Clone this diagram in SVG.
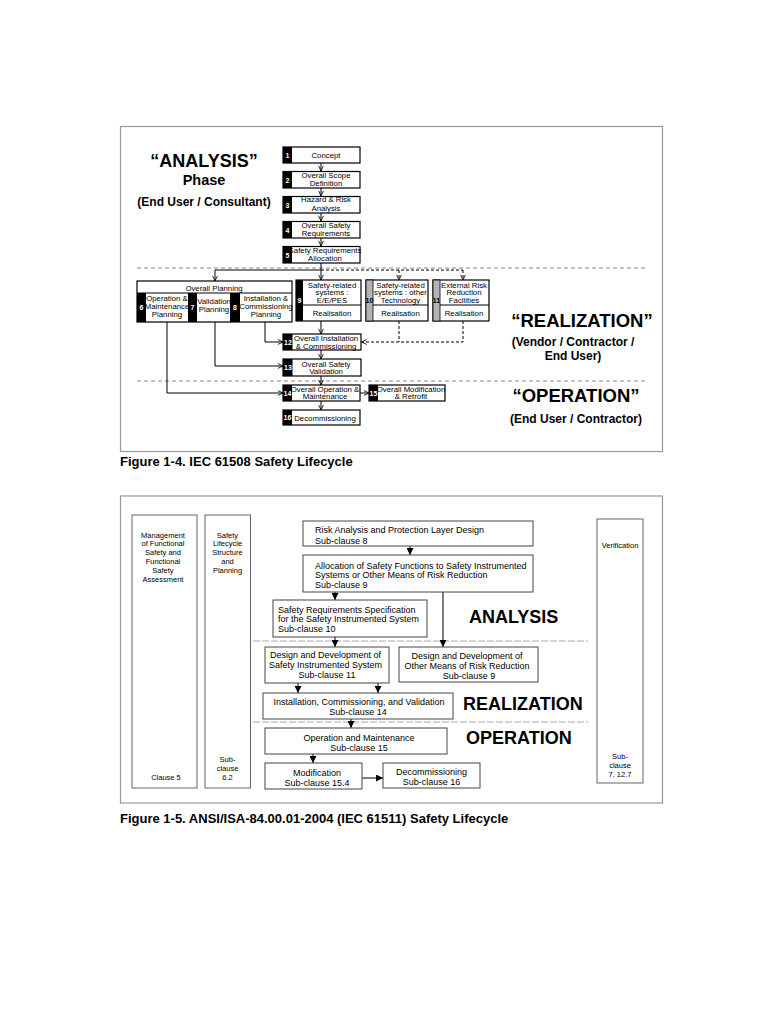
<svg xmlns="http://www.w3.org/2000/svg" width="768" height="1024" viewBox="0 0 768 1024">
<style>
.frame{fill:none;stroke:#999;stroke-width:1.2}
.box{fill:#fff;stroke:#000;stroke-width:1.2}
.blk{fill:#000}
.gry{fill:#b4b4b4;stroke:#000;stroke-width:0.8}
.t{font-family:"Liberation Sans",Arial,sans-serif;font-size:7.8px;fill:#000;text-anchor:middle}
.num{font-family:"Liberation Sans",Arial,sans-serif;font-size:7px;font-weight:bold;fill:#fff;text-anchor:middle}
.numb{font-family:"Liberation Sans",Arial,sans-serif;font-size:7px;font-weight:bold;fill:#000;text-anchor:middle}
.big{font-family:"Liberation Sans",Arial,sans-serif;font-weight:bold;fill:#000;text-anchor:middle}
.bigl{font-family:"Liberation Sans",Arial,sans-serif;font-weight:bold;font-size:18px;fill:#000;text-anchor:start}
.cap{font-family:"Liberation Sans",Arial,sans-serif;font-weight:bold;font-size:13px;fill:#000}
.sep{stroke:#888;stroke-width:1;stroke-dasharray:4,3;fill:none}
.sep2{stroke:#aaa;stroke-width:1;stroke-dasharray:7,2;fill:none}
.ln{stroke:#000;stroke-width:1;fill:none}
.dl{stroke:#000;stroke-width:1;fill:none;stroke-dasharray:3,2}
.b2{fill:#fff;stroke:#444;stroke-width:1}
.col{fill:#fff;stroke:#666;stroke-width:1}
.t2{font-family:"Liberation Sans",Arial,sans-serif;font-size:9px;fill:#000}
.t2c{font-family:"Liberation Sans",Arial,sans-serif;font-size:9px;fill:#000;text-anchor:middle}
.t3{font-family:"Liberation Sans",Arial,sans-serif;font-size:7.5px;fill:#000;text-anchor:middle}
</style>
<defs>
<marker id="oa" viewBox="0 0 10 10" refX="9.5" refY="5" markerWidth="6" markerHeight="6" markerUnits="userSpaceOnUse" orient="auto">
<path d="M1,1 L9.5,5 L1,9" fill="none" stroke="#000" stroke-width="1.4"/>
</marker>
<marker id="sa" viewBox="0 0 10 10" refX="10" refY="5" markerWidth="7" markerHeight="7" markerUnits="userSpaceOnUse" orient="auto">
<path d="M0,0 L10,5 L0,10 z" fill="#000"/>
</marker>
</defs>
<rect width="768" height="1024" fill="#fff"/>

<!-- ===== Figure 1-4 ===== -->
<rect class="frame" x="120.5" y="126.5" width="542" height="325"/>
<g id="labels-top">
<text class="big" x="204" y="166.5" font-size="18">“ANALYSIS”</text>
<text class="big" x="204" y="184.5" font-size="14.5">Phase</text>
<text class="big" x="204" y="205.5" font-size="12">(End User / Consultant)</text>
<text class="big" x="582" y="326.5" font-size="18.5">“REALIZATION”</text>
<text class="big" x="573" y="346" font-size="12">(Vendor / Contractor /</text>
<text class="big" x="573" y="360" font-size="12">End User)</text>
<text class="big" x="576" y="401.5" font-size="18.5">“OPERATION”</text>
<text class="big" x="576" y="422.5" font-size="12">(End User / Contractor)</text>
</g>
<path class="sep" d="M137,268 H648"/>
<path class="sep" d="M137,381 H648"/>

<g id="connectors-top">
<path class="ln" d="M321,163 V171" marker-end="url(#oa)"/>
<path class="ln" d="M321,188 V196" marker-end="url(#oa)"/>
<path class="ln" d="M321,213 V221" marker-end="url(#oa)"/>
<path class="ln" d="M321,238 V246" marker-end="url(#oa)"/>
<path class="ln" d="M321,263 V280" marker-end="url(#oa)"/>
<path class="ln" d="M321,270 H215 V281" marker-end="url(#oa)"/>
<path class="dl" d="M321,270 H463"/>
<path class="dl" d="M399,270 V280" marker-end="url(#oa)"/>
<path class="dl" d="M463,270 V280" marker-end="url(#oa)"/>
<path class="dl" d="M399,321 V342"/>
<path class="dl" d="M463,321 V342 H361.5" marker-end="url(#oa)"/>
<path class="ln" d="M321,321 V334" marker-end="url(#oa)"/>
<path class="ln" d="M321,350 V359" marker-end="url(#oa)"/>
<path class="ln" d="M321,376 V385" marker-end="url(#oa)"/>
<path class="ln" d="M321,401 V410" marker-end="url(#oa)"/>
<path class="ln" d="M360,393 H369" marker-end="url(#oa)"/>
<path class="ln" d="M265,322 V342 H283" marker-end="url(#oa)"/>
<path class="ln" d="M215,322 V366 H283" marker-end="url(#oa)"/>
<path class="ln" d="M167,322 V393 H283" marker-end="url(#oa)"/>
</g>

<g id="n1">
<rect class="box" x="283" y="147" width="77" height="16"/>
<text class="t" x="326" y="158">Concept</text>
<rect class="blk" x="283" y="147" width="9" height="16"/>
<text class="num" x="287.5" y="157.5">1</text>
</g>
<g id="n2">
<rect class="box" x="283" y="171.5" width="77" height="16.5"/>
<text class="t" x="326" y="178">Overall Scope</text>
<text class="t" x="326" y="185.7">Definition</text>
<rect class="blk" x="283" y="171.5" width="9" height="16.5"/>
<text class="num" x="287.5" y="182.5">2</text>
</g>
<g id="n3">
<rect class="box" x="283" y="196.5" width="77" height="16.5"/>
<text class="t" x="326" y="202">Hazard &amp; Risk</text>
<text class="t" x="326" y="211">Analysis</text>
<rect class="blk" x="283" y="196.5" width="9" height="16.5"/>
<text class="num" x="287.5" y="207.5">3</text>
</g>
<g id="n4">
<rect class="box" x="283" y="221.5" width="77" height="16.5"/>
<text class="t" x="326" y="228.3">Overall Safety</text>
<text class="t" x="326" y="236">Requirements</text>
<rect class="blk" x="283" y="221.5" width="9" height="16.5"/>
<text class="num" x="287.5" y="232.5">4</text>
</g>
<g id="n5">
<rect class="box" x="283" y="246.5" width="77" height="16.5"/>
<text class="t" x="325" y="253">Safety Requirements</text>
<text class="t" x="325" y="261">Allocation</text>
<rect class="blk" x="283" y="246.5" width="9" height="16.5"/>
<text class="num" x="287.5" y="257.5">5</text>
</g>

<g id="n-planning">
<rect class="box" x="137" y="281" width="155" height="41"/>
<path class="ln" d="M137,293 H292" stroke-width="1.2"/>
<text class="t" x="214" y="290.5">Overall Planning</text>
<text class="t" x="167" y="301">Operation &amp;</text>
<text class="t" x="167" y="308.5">Maintenance</text>
<text class="t" x="167" y="316.5">Planning</text>
<rect class="blk" x="137" y="293" width="9" height="29"/>
<text class="num" x="141.5" y="310">6</text>
<text class="t" x="214" y="303.5">Validation</text>
<text class="t" x="214" y="311.5">Planning</text>
<rect class="blk" x="188" y="293" width="9" height="29"/>
<text class="num" x="192.5" y="310">7</text>
<text class="t" x="266" y="301">Installation &amp;</text>
<text class="t" x="266" y="308.5">Commissioning</text>
<text class="t" x="266" y="316.5">Planning</text>
<rect class="blk" x="230" y="293" width="10" height="29"/>
<text class="num" x="235" y="310">8</text>
</g>

<g id="n9">
<rect class="box" x="296" y="280" width="65" height="41"/>
<path class="ln" d="M303,305 H361" stroke-width="1.2"/>
<text class="t" x="332" y="287.5">Safety-related</text>
<text class="t" x="332" y="295">systems :</text>
<text class="t" x="332" y="302.5">E/E/PES</text>
<text class="t" x="332" y="316">Realisation</text>
<rect class="blk" x="296" y="280" width="7" height="41"/>
<text class="num" x="299.5" y="303">9</text>
</g>
<g id="n10">
<rect class="box" x="366" y="280" width="62" height="41"/>
<path class="ln" d="M373,305 H428" stroke-width="1.2"/>
<text class="t" x="400.5" y="287.5">Safety-related</text>
<text class="t" x="400.5" y="295">systems : other</text>
<text class="t" x="400.5" y="302.5">Technology</text>
<text class="t" x="400.5" y="316">Realisation</text>
<rect class="gry" x="366" y="280" width="7" height="41"/>
<text class="numb" x="369.5" y="303">10</text>
</g>
<g id="n11">
<rect class="box" x="433" y="280" width="56" height="41"/>
<path class="ln" d="M440,305 H489" stroke-width="1.2"/>
<text class="t" x="464" y="287.5">External Risk</text>
<text class="t" x="464" y="295">Reduction</text>
<text class="t" x="464" y="302.5">Facilities</text>
<text class="t" x="464" y="316">Realisation</text>
<rect class="gry" x="433" y="280" width="7" height="41"/>
<text class="numb" x="436.5" y="303">11</text>
</g>

<g id="n12">
<rect class="box" x="283" y="334" width="78" height="16"/>
<text class="t" x="326" y="341">Overall Installation</text>
<text class="t" x="326" y="348.5">&amp; Commissioning</text>
<rect class="blk" x="283" y="334" width="9.5" height="16"/>
<text class="num" x="288" y="344.5">12</text>
</g>
<g id="n13">
<rect class="box" x="283" y="359" width="78" height="17"/>
<text class="t" x="326" y="366.5">Overall Safety</text>
<text class="t" x="326" y="374">Validation</text>
<rect class="blk" x="283" y="359" width="9.5" height="17"/>
<text class="num" x="288" y="370">13</text>
</g>
<g id="n14">
<rect class="box" x="283" y="385" width="77" height="16"/>
<text class="t" x="325" y="391.7">Overall Operation &amp;</text>
<text class="t" x="325" y="399.3">Maintenance</text>
<rect class="blk" x="283" y="385" width="9" height="16"/>
<text class="num" x="287.5" y="395.5">14</text>
</g>
<g id="n15">
<rect class="box" x="369" y="385" width="76" height="16"/>
<text class="t" x="411" y="391.7">Overall Modification</text>
<text class="t" x="411" y="399.3">&amp; Retrofit</text>
<rect class="blk" x="369" y="385" width="9" height="16"/>
<text class="num" x="373.5" y="395.5">15</text>
</g>
<g id="n16">
<rect class="box" x="283" y="410" width="77" height="15"/>
<text class="t" x="325" y="420.5">Decommissioning</text>
<rect class="blk" x="283" y="410" width="9" height="15"/>
<text class="num" x="287.5" y="420">16</text>
</g>

<text class="cap" x="120" y="466">Figure 1-4. IEC 61508 Safety Lifecycle</text>

<!-- ===== Figure 1-5 ===== -->
<rect class="frame" x="120.5" y="496" width="542" height="307"/>

<g id="c-mgmt">
<rect class="col" x="132" y="515" width="65" height="273"/>
<text class="t3" x="163" y="537.5">Management</text>
<text class="t3" x="163" y="546.4">of Functional</text>
<text class="t3" x="163" y="555.3">Safety and</text>
<text class="t3" x="163" y="564.2">Functional</text>
<text class="t3" x="163" y="573.1">Safety</text>
<text class="t3" x="163" y="582">Assessment</text>
<text class="t3" x="166" y="779.5">Clause 5</text>
</g>
<g id="c-slc">
<rect class="col" x="205" y="515" width="45.5" height="273"/>
<text class="t3" x="227.5" y="537.5">Safety</text>
<text class="t3" x="227.5" y="546.4">Lifecycle</text>
<text class="t3" x="227.5" y="555.3">Structure</text>
<text class="t3" x="227.5" y="564.2">and</text>
<text class="t3" x="227.5" y="573.1">Planning</text>
<text class="t3" x="227.5" y="762">Sub-</text>
<text class="t3" x="227.5" y="771">clause</text>
<text class="t3" x="227.5" y="780">6.2</text>
</g>
<g id="c-ver">
<rect class="col" x="597" y="519" width="46" height="264"/>
<text class="t3" x="620" y="547.5">Verification</text>
<text class="t3" x="620" y="758.7">Sub-</text>
<text class="t3" x="620" y="767.7">clause</text>
<text class="t3" x="620" y="776.7">7, 12.7</text>
</g>

<path class="sep2" d="M253,641 H588"/>
<path class="sep2" d="M253,722 H588"/>
<g id="phase-labels">
<text class="bigl" x="469" y="623">ANALYSIS</text>
<text class="bigl" x="463" y="710">REALIZATION</text>
<text class="bigl" x="466" y="744">OPERATION</text>
</g>

<g id="connectors-bottom">
<path class="ln" d="M410,546 V555" marker-end="url(#sa)"/>
<path class="ln" d="M335,592 V600" marker-end="url(#sa)"/>
<path class="ln" d="M443,592 V647" marker-end="url(#sa)"/>
<path class="ln" d="M335,637 V647" marker-end="url(#sa)"/>
<path class="ln" d="M298,683 V693" marker-end="url(#sa)"/>
<path class="ln" d="M378,683 V693" marker-end="url(#sa)"/>
<path class="ln" d="M351,719 V728" marker-end="url(#sa)"/>
<path class="ln" d="M313,754 V763" marker-end="url(#sa)"/>
<path class="ln" d="M362,778 H383" marker-end="url(#sa)"/>
</g>

<g id="b-risk">
<rect class="b2" x="303" y="521" width="230" height="25"/>
<text class="t2" x="315" y="533">Risk Analysis and Protection Layer Design</text>
<text class="t2" x="315" y="543.5">Sub-clause 8</text>
</g>
<g id="b-alloc">
<rect class="b2" x="303" y="555" width="230" height="37"/>
<text class="t2" x="315" y="569">Allocation of Safety Functions to Safety Instrumented</text>
<text class="t2" x="315" y="578.3">Systems or Other Means of Risk Reduction</text>
<text class="t2" x="315" y="587.5">Sub-clause 9</text>
</g>
<g id="b-srs">
<rect class="b2" x="273" y="600" width="154" height="37"/>
<text class="t2" x="278" y="613">Safety Requirements Specification</text>
<text class="t2" x="278" y="622.3">for the Safety Instrumented System</text>
<text class="t2" x="278" y="632">Sub-clause 10</text>
</g>
<g id="b-sis">
<rect class="b2" x="265" y="647" width="124" height="36"/>
<text class="t2c" x="325.5" y="657.5">Design and Development of</text>
<text class="t2c" x="325.5" y="667.5">Safety Instrumented System</text>
<text class="t2c" x="327" y="677.5">Sub-clause 11</text>
</g>
<g id="b-other">
<rect class="b2" x="399" y="647" width="139" height="35"/>
<text class="t2c" x="467" y="659">Design and Development of</text>
<text class="t2c" x="467" y="669">Other Means of Risk Reduction</text>
<text class="t2c" x="469" y="679">Sub-clause 9</text>
</g>
<g id="b-install">
<rect class="b2" x="263" y="693" width="190" height="26"/>
<text class="t2c" x="359" y="705">Installation, Commissioning, and Validation</text>
<text class="t2c" x="358" y="715">Sub-clause 14</text>
</g>
<g id="b-opm">
<rect class="b2" x="265" y="728" width="182" height="26"/>
<text class="t2c" x="359" y="740.5">Operation and Maintenance</text>
<text class="t2c" x="359" y="750.5">Sub-clause 15</text>
</g>
<g id="b-mod">
<rect class="b2" x="265" y="763" width="97" height="26"/>
<text class="t2c" x="317" y="775.5">Modification</text>
<text class="t2c" x="317" y="786">Sub-clause 15.4</text>
</g>
<g id="b-decom">
<rect class="b2" x="383" y="763" width="97" height="25"/>
<text class="t2c" x="431.5" y="775">Decommissioning</text>
<text class="t2c" x="431.5" y="785">Sub-clause 16</text>
</g>

<text class="cap" x="120" y="823">Figure 1-5. ANSI/ISA-84.00.01-2004 (IEC 61511) Safety Lifecycle</text>
</svg>
